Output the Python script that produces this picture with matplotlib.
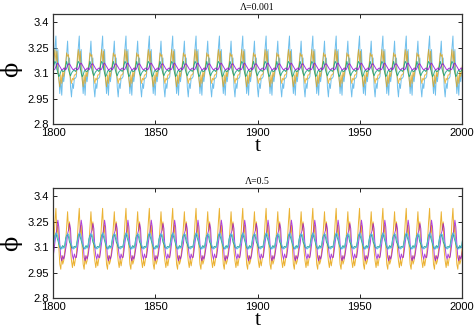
#!/usr/bin/env python3
import numpy as np
import matplotlib
matplotlib.use('Agg')
import matplotlib.pyplot as plt

# two oscillation periods (12 samples per period)
period = 5.71
n_pairs = 18

# Lambda = 0.001 panel
top_cyan = [3.08, 3.16, 3.25, 3.32, 3.12, 3.24, 3.08, 2.98, 3.06, 2.97, 3.09, 3.05,
            3.10, 3.14, 3.21, 3.29, 3.15, 3.19, 3.02, 2.96, 3.04, 3.01, 3.07, 3.07]
top_orange = [3.10, 3.19, 3.24, 3.17, 3.23, 3.13, 3.06, 3.02, 3.09, 3.04, 3.11, 3.08,
              3.12, 3.16, 3.22, 3.20, 3.21, 3.10, 3.07, 3.04, 3.07, 3.06, 3.09, 3.09]
top_green = [3.12, 3.15, 3.17, 3.16, 3.13, 3.10, 3.08, 3.09, 3.11, 3.12, 3.11, 3.11,
             3.12, 3.14, 3.17, 3.15, 3.12, 3.10, 3.085, 3.10, 3.11, 3.115, 3.12, 3.11]
top_purple = [3.13, 3.12, 3.125, 3.14, 3.155, 3.16, 3.15, 3.14, 3.13, 3.12, 3.12, 3.13,
              3.13, 3.12, 3.13, 3.145, 3.155, 3.155, 3.145, 3.135, 3.125, 3.12, 3.125, 3.13]

# Lambda = 0.5 panel
bot_orange = [3.05, 3.15, 3.25, 3.33, 3.18, 3.23, 3.10, 3.00, 2.97, 3.05, 3.00, 3.02,
              3.07, 3.13, 3.22, 3.31, 3.20, 3.25, 3.08, 3.02, 2.98, 3.03, 2.99, 3.03]
bot_magenta = [3.04, 3.08, 3.13, 3.17, 3.21, 3.26, 3.22, 3.12, 3.04, 3.02, 3.05, 3.03,
               3.05, 3.09, 3.12, 3.18, 3.20, 3.24, 3.21, 3.10, 3.05, 3.03, 3.06, 3.04]
bot_green = [3.11, 3.14, 3.17, 3.18, 3.16, 3.14, 3.12, 3.10, 3.09, 3.10, 3.11, 3.10,
             3.11, 3.15, 3.17, 3.175, 3.16, 3.13, 3.12, 3.10, 3.095, 3.10, 3.105, 3.10]
bot_cyan = [3.10, 3.13, 3.16, 3.185, 3.18, 3.16, 3.13, 3.11, 3.095, 3.09, 3.10, 3.095,
            3.10, 3.14, 3.165, 3.18, 3.175, 3.155, 3.135, 3.115, 3.10, 3.09, 3.095, 3.10]

yticks = [2.8, 2.95, 3.1, 3.25, 3.4]
ytick_labels = ['2.8', '2.95', '3.1', '3.25', '3.4']
xticks = [1800, 1850, 1900, 1950, 2000]

c_purple = '#9400D3'
c_green = '#009E73'
c_cyan = '#56B4E9'
c_orange = '#E69F00'

t = 1800 + np.arange(24 * n_pairs) * period / 12


def series(cycle):
    return np.tile(cycle, n_pairs)


fig = plt.figure(figsize=(4.74, 3.29), dpi=100)
ax1 = fig.add_axes([0.1118, 0.6231, 0.8629, 0.3343])
ax2 = fig.add_axes([0.1118, 0.0942, 0.8629, 0.3343])

ax1.plot(t, series(top_cyan), color=c_cyan, lw=0.7, alpha=0.85)
ax1.plot(t, series(top_orange), color=c_orange, lw=0.7, alpha=0.7)
ax1.plot(t, series(top_green), color=c_green, lw=0.7, alpha=0.8)
ax1.plot(t, series(top_purple), color=c_purple, lw=0.7, alpha=0.8)

ax2.plot(t, series(bot_orange), color=c_orange, lw=0.7, alpha=0.8)
ax2.plot(t, series(bot_magenta), color=c_purple, lw=0.7, alpha=0.75)
ax2.plot(t, series(bot_green), color=c_green, lw=0.7, alpha=0.8)
ax2.plot(t, series(bot_cyan), color=c_cyan, lw=0.8, alpha=0.9)

for ax, title in [(ax1, 'Λ=0.001'), (ax2, 'Λ=0.5')]:
    ax.set_xlim(1800, 2000)
    ax.set_ylim(2.8, 3.45)
    ax.set_xticks(xticks)
    ax.set_yticks(yticks)
    ax.set_yticklabels(ytick_labels)
    ax.tick_params(direction='in', top=True, right=True, length=3, width=0.6,
                   labelsize=8, pad=3)
    for lab in ax.get_xticklabels() + ax.get_yticklabels():
        lab.set_family('Liberation Sans')
    for s in ax.spines.values():
        s.set_linewidth(0.9)
        s.set_color('#333333')
    ax.set_title(title, fontsize=7, family='Liberation Serif', pad=3)
    ax.set_ylabel('ϕ', fontsize=16, family='DejaVu Serif', labelpad=4)
    ax.set_xlabel('t', fontsize=16, family='Liberation Serif', labelpad=-1)

fig.savefig('out.png', dpi=100)
